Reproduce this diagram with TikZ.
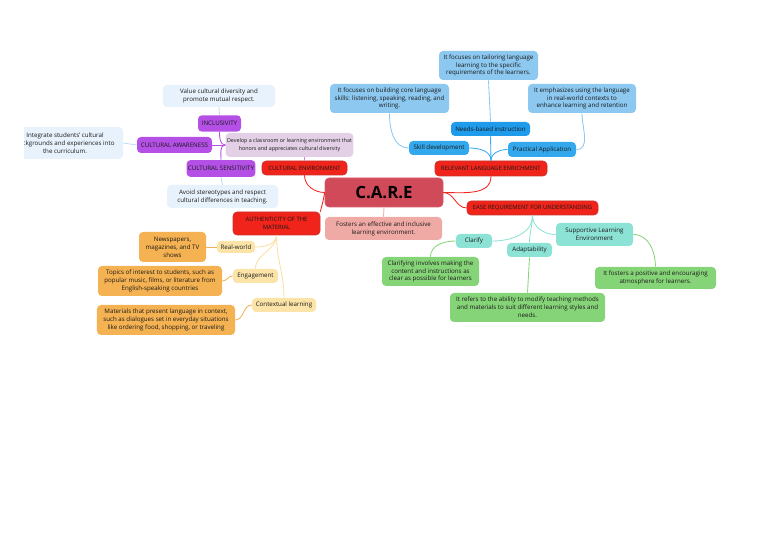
\documentclass[tikz,border=0pt]{standalone}
\usepackage{fontspec}
\setmainfont{Open Sans}
\usepackage{xcolor}
\usepackage{tikz}
\usetikzlibrary{positioning}
\definecolor{careRed}{RGB}{209, 74, 90}
\definecolor{softPink}{RGB}{240, 170, 165}
\definecolor{branchRed}{RGB}{240, 36, 26}
\definecolor{violet}{RGB}{180, 80, 230}
\definecolor{mauve}{RGB}{228, 208, 230}
\definecolor{paleBlue}{RGB}{232, 242, 252}
\definecolor{midBlue}{RGB}{52, 168, 236}
\definecolor{deepBlue}{RGB}{30, 155, 235}
\definecolor{lightBlue}{RGB}{140, 200, 240}
\definecolor{teal}{RGB}{140, 226, 212}
\definecolor{leaf}{RGB}{134, 212, 120}
\definecolor{sand}{RGB}{252, 228, 168}
\definecolor{orange}{RGB}{245, 178, 82}
\tikzstyle{box} = [rectangle, rounded corners=1mm, align=center, inner sep=1pt, text=black!90, font=\fontsize{4.4}{5.6}\selectfont]
\tikzstyle{central} = [box, fill=careRed, draw=careRed!90, text=black, font=\fontsize{12}{14}\selectfont\bfseries]
\tikzstyle{branch} = [box, fill=branchRed, draw=branchRed!80!black!90, font=\fontsize{4.2}{5.4}\selectfont]
\tikzstyle{topic} = [box, fill=violet]
\tikzstyle{link} = [line width=0.6pt]

\begin{document}
\begin{tikzpicture}[x=0.25mm, y=-0.25mm]
    \useasboundingbox (0,0) rectangle (768,543);

    % Core
    \node[central, minimum width=29.5mm, minimum height=7.25mm] (care) at (384,192.5) {C.A.R.E};
    \node[box, fill=softPink, minimum width=29.25mm, minimum height=5.75mm] (fosters) at (383.5,228.5) {Fosters an effective and inclusive\\learning environment.};

    % Main branches
    \node[branch, minimum width=21.25mm, minimum height=3.5mm] (culture) at (304.5,168) {CULTURAL ENVIRONMENT};
    \node[branch, minimum width=28mm, minimum height=3.75mm] (enrich) at (491,168.5) {RELEVANT LANGUAGE ENRICHMENT};
    \node[branch, minimum width=32.75mm, minimum height=3.5mm] (ease) at (532.5,208) {EASE REQUIREMENT FOR UNDERSTANDING};
    \node[branch, minimum width=21.75mm, minimum height=5.75mm] (authentic) at (276.5,223.5) {AUTHENTICITY OF THE\\MATERIAL};

    % Cultural environment
    \node[box, fill=mauve, minimum width=31.25mm, minimum height=6mm, font=\fontsize{3.8}{5.2}\selectfont] (develop) at (289.5,145) {Develop a classroom or learning environment that\\honors and appreciates cultural diversity};
    \node[topic, minimum width=10.75mm, minimum height=4.1mm] (inclusive) at (219.5,123.5) {INCLUSIVITY};
    \node[topic, minimum width=18.75mm, minimum height=4mm] (awareness) at (174.5,145) {CULTURAL AWARENESS};
    \node[topic, minimum width=17mm, minimum height=4.2mm] (sensitive) at (221,168.5) {CULTURAL SENSITIVITY};
    \node[box, fill=paleBlue, minimum width=28mm, minimum height=5.5mm] (valuenote) at (219,96) {Value cultural diversity and\\promote mutual respect.};
    \node[box, fill=paleBlue, minimum width=27.75mm, minimum height=5.75mm] (avoidnote) at (222.5,196.5) {Avoid stereotypes and respect\\cultural differences in teaching.};
    \begin{scope}
        \clip (24,110) rectangle (140,180);
        \node[box, fill=paleBlue, minimum width=29mm, minimum height=8mm] (integrate) at (65,143) {Integrate students' cultural\\backgrounds and experiences into\\the curriculum.};
    \end{scope}

    % Language enrichment
    \node[box, fill=midBlue, minimum width=15mm, minimum height=3.5mm] (skills) at (439,148) {Skill development};
    \node[box, fill=deepBlue, minimum width=19.75mm, minimum height=3.5mm] (needs) at (490.5,129) {Needs-based instruction};
    \node[box, fill=midBlue, minimum width=17mm, minimum height=3.75mm] (practice) at (542,149.5) {Practical Application};
    \node[box, fill=lightBlue, minimum width=29.75mm, minimum height=7.25mm] (skillsnote) at (389.5,98.5) {It focuses on building core language\\skills: listening, speaking, reading, and\\writing.};
    \node[box, fill=lightBlue, minimum width=24.75mm, minimum height=7.25mm] (needsnote) at (488.5,65.5) {It focuses on tailoring language\\learning to the specific\\requirements of the learners.};
    \node[box, fill=lightBlue, minimum width=27mm, minimum height=7.25mm] (practicenote) at (582,98.5) {It emphasizes using the language\\in real-world contexts to\\enhance learning and retention};

    % Ease of understanding
    \node[box, fill=teal, minimum width=9mm, minimum height=3.5mm] (clarify) at (474,241) {Clarify};
    \node[box, fill=teal, minimum width=11.25mm, minimum height=3.5mm] (adapt) at (529.5,250) {Adaptability};
    \node[box, fill=teal, minimum width=19.25mm, minimum height=5.75mm] (support) at (594.5,234.5) {Supportive Learning\\Environment};
    \node[box, fill=leaf, minimum width=24.25mm, minimum height=7.25mm] (clarifynote) at (430.5,271.5) {Clarifying involves making the\\content and instructions as\\clear as possible for learners};
    \node[box, fill=leaf, minimum width=38.75mm, minimum height=7.25mm] (adaptnote) at (527.5,307.5) {It refers to the ability to modify teaching methods\\and materials to suit different learning styles and\\needs.};
    \node[box, fill=leaf, minimum width=30.25mm, minimum height=5.5mm] (supportnote) at (655.5,278) {It fosters a positive and encouraging\\atmosphere for learners.};

    % Authenticity
    \node[box, fill=sand, minimum width=9.5mm, minimum height=3mm] (realworld) at (236,247) {Real-world};
    \node[box, fill=sand, minimum width=11.25mm, minimum height=3.5mm] (engage) at (255.5,276) {Engagement};
    \node[box, fill=sand, minimum width=16mm, minimum height=3.5mm] (context) at (284,305) {Contextual learning};
    \node[box, fill=orange, minimum width=16.75mm, minimum height=7.5mm] (realnote) at (172.5,247) {Newspapers,\\magazines, and TV\\shows};
    \node[box, fill=orange, minimum width=31mm, minimum height=7.5mm] (engagenote) at (160,281) {Topics of interest to students, such as\\popular music, films, or literature from\\English-speaking countries};
    \node[box, fill=orange, minimum width=34.5mm, minimum height=7.5mm] (contextnote) at (166,320) {Materials that present language in context,\\such as dialogues set in everyday situations\\like ordering food, shopping, or traveling};

    % Connections
    \draw[link, branchRed] (culture.south) to[out=-90, in=180] (care.west);
    \draw[link, branchRed] (care.west) to[out=-100, in=75] (authentic.north east);
    \draw[link, branchRed] (care.east) to[out=0, in=-90] (enrich.south);
    \draw[link, branchRed] (care.east) to[out=0, in=180] (ease.west);
    \draw[link, softPink] (care.south) -- (fosters.north);

    \draw[link, violet!70] (culture.north) -- (culture.north |- develop.south);
    \draw[link, violet] (develop.west) to[out=180, in=-90] (inclusive.south);
    \draw[link, violet] (develop.west) -- (awareness.east);
    \draw[link, violet] (develop.west) to[out=180, in=90] (sensitive.north);
    \draw[link, lightBlue!60] (inclusive.north) -- (valuenote.south);
    \draw[link, lightBlue!60] (awareness.west) -- (integrate.east);
    \draw[link, lightBlue!60] (sensitive.south) -- (avoidnote.north);

    \draw[link, midBlue] (enrich.north) to[out=90, in=0] (skills.east);
    \draw[link, midBlue] (enrich.north) -- (needs.south);
    \draw[link, midBlue] (enrich.north) to[out=90, in=180] (practice.west);
    \draw[link, lightBlue] (skills.west) to[out=180, in=-90] (skillsnote.south);
    \draw[link, lightBlue] (needs.north) -- (needsnote.south);
    \draw[link, lightBlue] (practice.east) to[out=0, in=-90] (practicenote.south);

    \draw[link, teal] (ease.south) to[out=-90, in=0] (clarify.east);
    \draw[link, teal] (ease.south) to[out=-90, in=90] (adapt.north);
    \draw[link, teal] (ease.south) to[out=-90, in=180] (support.west);
    \draw[link, leaf] (clarify.west) to[out=180, in=90] (clarifynote.north);
    \draw[link, leaf] (adapt.south) -- (adaptnote.north);
    \draw[link, leaf] (support.east) to[out=0, in=90] (supportnote.north);

    \draw[link, sand!90!orange] (authentic.south) to[out=-90, in=0] (realworld.east);
    \draw[link, sand!90!orange] (authentic.south) to[out=-90, in=90] (engage.north);
    \draw[link, sand!90!orange] (authentic.south) to[out=-90, in=90] (context.north);
    \draw[link, orange] (realworld.west) -- (realnote.east);
    \draw[link, orange] (engage.west) to[out=180, in=0] (engagenote.east);
    \draw[link, orange] (context.west) to[out=180, in=0] (contextnote.east);
\end{tikzpicture}
\end{document}
